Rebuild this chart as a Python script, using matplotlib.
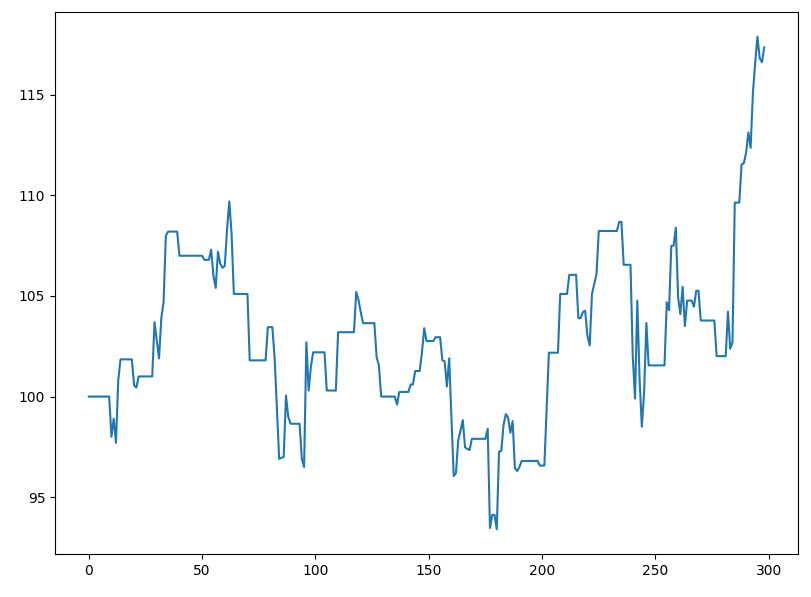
import matplotlib
matplotlib.use("Agg")
import matplotlib.pyplot as plt
import numpy as np

# Series values (index 0..298)
values_0_49 = [
    100.0, 100.0, 100.0, 100.0, 100.0, 100.0, 100.0, 100.0, 100.0, 100.0,
    98.0, 98.9, 97.7, 100.8, 101.85, 101.85, 101.85, 101.85, 101.85, 101.85,
    100.55, 100.45, 101.0, 101.0, 101.0, 101.0, 101.0, 101.0, 101.0, 103.7,
    102.8, 101.9, 103.9, 104.7, 108.0, 108.2, 108.2, 108.2, 108.2, 108.2,
    107.0, 107.0, 107.0, 107.0, 107.0, 107.0, 107.0, 107.0, 107.0, 107.0,
]
values_50_99 = [
    107.0, 106.8, 106.8, 106.8, 107.3, 106.0, 105.4, 107.2, 106.6, 106.4,
    106.5, 108.3, 109.7, 108.1, 105.1, 105.1, 105.1, 105.1, 105.1, 105.1,
    105.1, 101.8, 101.8, 101.8, 101.8, 101.8, 101.8, 101.8, 101.8, 103.45,
    103.45, 103.45, 101.9, 99.4, 96.9, 96.95, 97.0, 100.05, 99.0, 98.65,
    98.65, 98.65, 98.65, 98.65, 96.9, 96.5, 102.7, 100.3, 101.5, 102.2,
]
values_100_149 = [
    102.2, 102.2, 102.2, 102.2, 102.2, 100.3, 100.3, 100.3, 100.3, 100.3,
    103.2, 103.2, 103.2, 103.2, 103.2, 103.2, 103.2, 103.2, 105.2, 104.8,
    104.2, 103.65, 103.65, 103.65, 103.65, 103.65, 103.65, 101.96, 101.55, 100.0,
    100.0, 100.0, 100.0, 100.0, 100.0, 100.0, 99.6, 100.23, 100.23, 100.23,
    100.23, 100.23, 100.6, 100.6, 101.27, 101.27, 101.27, 102.2, 103.4, 102.76,
]
values_150_199 = [
    102.76, 102.76, 102.76, 102.95, 102.95, 102.95, 101.8, 101.75, 100.5, 101.9,
    99.0, 96.05, 96.2, 97.84, 98.3, 98.83, 97.48, 97.4, 97.34, 97.9,
    97.9, 97.9, 97.9, 97.9, 97.9, 97.9, 98.4, 93.47, 94.12, 94.12,
    93.4, 97.26, 97.3, 98.6, 99.13, 98.95, 98.2, 98.78, 96.44, 96.3,
    96.5, 96.8, 96.8, 96.8, 96.8, 96.8, 96.8, 96.8, 96.8, 96.57,
]
values_200_249 = [
    96.57, 96.57, 99.4, 102.18, 102.18, 102.18, 102.18, 102.18, 105.1, 105.1,
    105.1, 105.1, 106.05, 106.05, 106.05, 106.05, 103.9, 103.9, 104.2, 104.27,
    103.03, 102.54, 105.1, 105.6, 106.09, 108.23, 108.23, 108.23, 108.23, 108.23,
    108.23, 108.23, 108.23, 108.23, 108.68, 108.68, 106.55, 106.55, 106.55, 106.55,
    102.0, 99.9, 104.77, 100.9, 98.5, 100.2, 103.66, 101.55, 101.55, 101.55,
]
values_250_298 = [
    101.55, 101.55, 101.55, 101.55, 101.55, 104.69, 104.3, 107.49, 107.5, 108.4,
    104.94, 104.1, 105.46, 103.5, 104.77, 104.77, 104.77, 104.47, 105.26, 105.26,
    103.78, 103.78, 103.78, 103.78, 103.78, 103.78, 103.78, 102.01, 102.01, 102.01,
    102.01, 102.01, 104.22, 102.38, 102.7, 109.64, 109.64, 109.64, 111.53, 111.6,
    112.11, 113.13, 112.36, 115.08, 116.57, 117.89, 116.82, 116.62, 117.36,
]

values = (values_0_49 + values_50_99 + values_100_149 + values_150_199
          + values_200_249 + values_250_298)
x = np.arange(len(values))

fig = plt.figure(figsize=(8.11, 5.97), dpi=100)
ax = fig.add_axes([55 / 811, 1 - 554 / 597, (798 - 55) / 811, (554 - 12) / 597])
ax.plot(x, values, color="#1f77b4", linewidth=1.5)
ax.set_xticks([0, 50, 100, 150, 200, 250, 300])
ax.set_yticks([95, 100, 105, 110, 115])
fig.savefig("out.png", dpi=100)
